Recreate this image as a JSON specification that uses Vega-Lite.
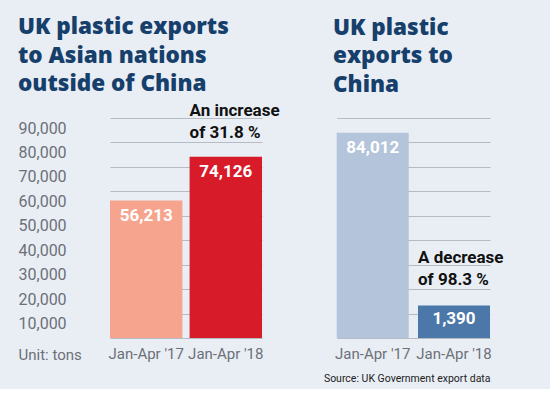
{
  "$schema": "https://vega.github.io/schema/vega-lite/v6.json",
  "background": "#e9eef5",
  "padding": {"left": 18, "top": 16, "right": 15, "bottom": 5},
  "bounds": "flush",
  "spacing": 0,
  "data": {"values": [
    {"panel": "outside", "period": "Jan-Apr '17", "value": 56213},
    {"panel": "outside", "period": "Jan-Apr '18", "value": 74126, "note": "An increase\nof 31.8 %"},
    {"panel": "china", "period": "Jan-Apr '17", "value": 84012},
    {"panel": "china", "period": "Jan-Apr '18", "value": 1390, "note": "A decrease\nof 98.3 %"}
  ]},
  "config": {
    "view": {"stroke": null},
    "font": "Roboto",
    "axis": {"labelFont": "Roboto", "titleFont": "Roboto"}
  },
  "resolve": {"scale": {"color": "independent", "x": "independent"}},
  "hconcat": [
    {
      "width": 282,
      "height": 220,
      "title": {
        "text": ["UK plastic exports", "to Asian nations", "outside of China"],
        "anchor": "start",
        "frame": "group",
        "font": "Open Sans",
        "fontSize": 22.5,
        "fontWeight": 800,
        "color": "#173f6b",
        "lineHeight": 28.5,
        "offset": 6
      },
      "transform": [{"filter": "datum.panel === 'outside'"}],
      "encoding": {
        "x": {
          "field": "period", "type": "nominal",
          "scale": {"range": [92, 244], "paddingInner": 0.09, "paddingOuter": 0},
          "axis": {"title": null, "domain": false, "ticks": false, "labelAngle": 0, "labelBaseline": "alphabetic", "labelPadding": 20, "labelFontSize": 15, "labelColor": "#6d7078"}
        },
        "y": {
          "field": "value", "type": "quantitative",
          "scale": {"domain": [0, 90000], "nice": false},
          "axis": {
            "values": [0, 10000, 20000, 30000, 40000, 50000, 60000, 70000, 80000, 90000],
            "labelExpr": "datum.value === 0 ? '' : format(datum.value, ',')",
            "grid": true, "gridColor": "#b7bcc4", "gridWidth": 1,
            "domain": false, "ticks": false, "tickSize": 0,
            "labelAlign": "left", "labelBaseline": "top", "labelPadding": 0, "labelOffset": 2,
            "labelFontSize": 16, "labelColor": "#6d7078",
            "title": "Unit: tons", "titleAngle": 0, "titleX": 0, "titleY": 241,
            "titleAlign": "left", "titleBaseline": "alphabetic",
            "titleFontSize": 15, "titleFontWeight": "normal", "titleColor": "#6d7078"
          }
        }
      },
      "layer": [
        {
          "mark": {"type": "bar"},
          "encoding": {
            "color": {"field": "period", "type": "nominal", "legend": null,
              "scale": {"domain": ["Jan-Apr '17", "Jan-Apr '18"], "range": ["#f6a48d", "#d81b28"]}}
          }
        },
        {
          "mark": {"type": "text", "baseline": "alphabetic", "dy": 20, "fontSize": 17, "fontWeight": "bold", "color": "#ffffff"},
          "encoding": {"text": {"field": "value", "type": "quantitative", "format": ","}}
        },
        {
          "transform": [{"filter": "datum.note"}],
          "mark": {"type": "text", "align": "left", "baseline": "alphabetic", "dy": -41, "lineBreak": "\n", "lineHeight": 22, "fontSize": 17, "fontWeight": "bold", "color": "#111111"},
          "encoding": {
            "x": {"field": "period", "type": "nominal", "bandPosition": 0},
            "text": {"field": "note"}
          }
        }
      ]
    },
    {
      "width": 235,
      "height": 220,
      "title": {
        "text": ["UK plastic", "exports to", "China"],
        "anchor": "start",
        "frame": "group",
        "dx": 33,
        "font": "Open Sans",
        "fontSize": 22.5,
        "fontWeight": 800,
        "color": "#173f6b",
        "lineHeight": 28.5,
        "offset": 22
      },
      "transform": [{"filter": "datum.panel === 'china'"}],
      "encoding": {
        "x": {
          "field": "period", "type": "nominal",
          "scale": {"range": [36.7, 190], "paddingInner": 0.114, "paddingOuter": 0},
          "axis": {"domain": false, "ticks": false, "labelAngle": 0, "labelBaseline": "alphabetic", "labelPadding": 20, "labelFontSize": 15, "labelColor": "#6d7078",
            "title": "Source: UK Government export data", "titleAnchor": "end", "titleY": 43, "titleBaseline": "alphabetic",
            "titleFontSize": 10.5, "titleFontWeight": "normal", "titleColor": "#222222"}
        },
        "y": {
          "field": "value", "type": "quantitative",
          "scale": {"domain": [0, 90000], "nice": false},
          "axis": {
            "values": [0, 10000, 20000, 30000, 40000, 50000, 60000, 70000, 80000, 90000],
            "grid": true, "gridColor": "#b7bcc4", "gridWidth": 1,
            "labels": false, "domain": false, "ticks": false, "title": null
          }
        }
      },
      "layer": [
        {
          "transform": [{"filter": "datum.value >= 10000"}],
          "mark": {"type": "bar"},
          "encoding": {
            "color": {"field": "period", "type": "nominal", "legend": null,
              "scale": {"domain": ["Jan-Apr '17", "Jan-Apr '18"], "range": ["#b4c4da", "#4b77a9"]}}
          }
        },
        {
          "transform": [{"filter": "datum.value < 10000"}],
          "mark": {"type": "bar", "yOffset": -29},
          "encoding": {
            "y2": {"datum": 0},
            "color": {"field": "period", "type": "nominal", "legend": null,
              "scale": {"domain": ["Jan-Apr '17", "Jan-Apr '18"], "range": ["#b4c4da", "#4b77a9"]}}
          }
        },
        {
          "transform": [{"filter": "datum.value >= 10000"}],
          "mark": {"type": "text", "baseline": "alphabetic", "dy": 20, "fontSize": 17, "fontWeight": "bold", "color": "#ffffff"},
          "encoding": {"text": {"field": "value", "type": "quantitative", "format": ","}}
        },
        {
          "transform": [{"filter": "datum.value < 10000"}],
          "mark": {"type": "text", "baseline": "alphabetic", "dy": -11, "fontSize": 17, "fontWeight": "bold", "color": "#ffffff"},
          "encoding": {"text": {"field": "value", "type": "quantitative", "format": ","}}
        },
        {
          "transform": [{"filter": "datum.note"}],
          "mark": {"type": "text", "align": "left", "baseline": "alphabetic", "dy": -72, "lineBreak": "\n", "lineHeight": 22, "fontSize": 17, "fontWeight": "bold", "color": "#111111"},
          "encoding": {
            "x": {"field": "period", "type": "nominal", "bandPosition": 0},
            "text": {"field": "note"}
          }
        }
      ]
    }
  ]
}
